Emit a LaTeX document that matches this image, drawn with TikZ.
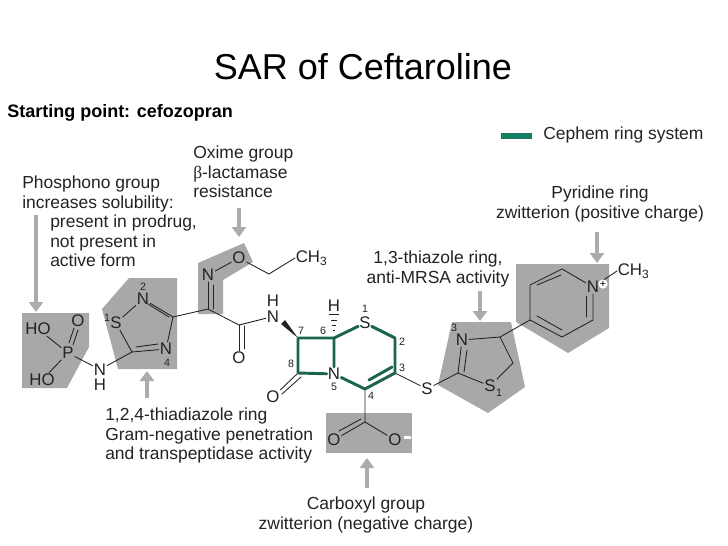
\documentclass[tikz,border=0pt]{standalone}
\usepackage{fontspec}
\setmainfont{Liberation Sans}
\newfontfamily\grk{Liberation Serif}
\definecolor{hl}{RGB}{168,168,170}
\definecolor{arr}{RGB}{172,172,172}
\definecolor{ceph}{RGB}{28,100,78}
\definecolor{cephlg}{RGB}{20,125,95}
\definecolor{ink}{RGB}{35,35,35}
\usetikzlibrary{arrows.meta}
\newcommand\subthree{\raisebox{-0.3ex}{\fontsize{9}{9}\selectfont 3}}
\tikzset{
  pxs/.style={x=0.75pt,y=-0.75pt},
  patch/.style={fill=hl,draw=none},
  bond/.style={draw=ink,line width=0.65pt,line cap=round},
  ring/.style={draw=ceph,line width=2.2pt,line cap=round},
  callout/.style={draw=arr,line width=3pt,-{Triangle[length=7.5pt,width=10.5pt]}},
  atom/.style={inner sep=0.3pt,outer sep=0.6pt,text=ink,font=\fontsize{12.6}{12.6}\selectfont},
  num/.style={inner sep=0pt,text=ink,font=\fontsize{8}{8}\selectfont},
  lab/.style={inner sep=0pt,text=ink,align=left,anchor=north west,font=\fontsize{13.1}{14.6}\selectfont},
  labc/.style={inner sep=0pt,text=ink,align=center,anchor=north,font=\fontsize{13.1}{14.6}\selectfont},
}
\begin{document}
\begin{tikzpicture}[pxs]
\useasboundingbox (0,0) rectangle (728,546);
\fill[white] (0,0) rectangle (728,546);
% patches
\fill[patch] (22,313)--(89,313)--(89,347)--(67,388)--(22,388)--cycle;
\fill[patch] (129,278)--(177,278)--(177,369)--(118,369)--(102,309)--cycle;
\fill[patch] (198,263)--(244,243)--(253,262)--(223,280)--(223,314)--(198,314)--cycle;
\fill[patch] (326,413)--(412,413)--(412,453)--(326,453)--cycle;
\fill[patch] (452,322)--(511,322)--(525,387)--(488,413)--(438,385)--cycle;
\fill[patch] (516,264)--(609,264)--(609,328)--(568,353)--(516,322)--cycle;
% texts
\node[inner sep=0pt,font=\fontsize{27}{30}\selectfont] (title) at (363,67) {SAR of Ceftaroline};
\node[inner sep=0pt,anchor=west,font=\bfseries\fontsize{13.5}{15}\selectfont] (start) at (7,113) {Starting point: cefozopran};
\node[lab] (phos) at (22,176) {Phosphono group\\increases solubility:};
\node[lab] (phos2) at (50,215) {present in prodrug,\\not present in\\active form};
\node[lab] (oxime) at (193,146) {Oxime group\\{\grk β}-lactamase\\resistance};
\node[labc] (pyr) at (600,186) {Pyridine ring\\zwitterion (positive charge)};
\node[labc] (thz) at (438,251) {1,3-thiazole ring,\\anti-MRSA activity};
\node[lab] (thd) at (105,408) {1,2,4-thiadiazole ring\\Gram-negative penetration\\and transpeptidase activity};
\node[labc] (carb) at (366,497) {Carboxyl group\\zwitterion (negative charge)};
\node[lab,anchor=west] (legend) at (543,135) {Cephem ring system};
\coordinate (lg1) at (501,136); \coordinate (lg2) at (532,136);
\draw[cephlg,line width=3.8pt] (lg1)--(lg2);
% arrows
\coordinate (a1s) at (36,215); \coordinate (a1e) at (36,312);
\coordinate (a2s) at (239,208); \coordinate (a2e) at (239,237);
\coordinate (a3s) at (147,398); \coordinate (a3e) at (147,371);
\coordinate (a4s) at (597,232); \coordinate (a4e) at (597,263);
\coordinate (a5s) at (480,291); \coordinate (a5e) at (480,321);
\coordinate (a6s) at (367,488); \coordinate (a6e) at (367,458);
\foreach \s/\e in {a1s/a1e,a2s/a2e,a3s/a3e,a4s/a4e,a5s/a5e,a6s/a6e} \draw[callout] (\s)--(\e);
% atoms
\node[atom] (p) at (68,353) {P};
\node[atom] (ho1) at (38,329) {HO};
\node[atom] (op) at (78,321) {O};
\node[atom] (ho2) at (42,380) {HO};
\node[atom] (nh) at (100,369.5) {N};
\node[atom] (nhh) at (100,384.5) {H};
\node[atom] (s1) at (116,323) {S};
\node[num] at (107,318) {1};
\node[atom] (n2) at (143,299) {N};
\node[num] at (143,287) {2};
\node[atom] (n4) at (166,349) {N};
\node[num] at (167,363) {4};
\coordinate (c3) at (173,317);
\coordinate (c5) at (132,352);
\coordinate (cim) at (208,309);
\node[atom] (nox) at (208,275) {N};
\node[atom] (oox) at (239,258) {O};
\coordinate (cch2) at (269,274);
\node[atom,anchor=west,inner sep=0pt] (ch3) at (295,258) {CH\subthree};
\coordinate (cco) at (239,325);
\node[atom] (oco) at (239,358) {O};
\node[atom] (nam) at (273,316.5) {N};
\node[atom] (hnam) at (273,301) {H};
\coordinate (c7) at (298,338);
\coordinate (c6) at (334,338);
\node[atom] (hb) at (334,306) {H};
\node[atom] (sc) at (365,323) {S};
\coordinate (c2) at (395,338);
\coordinate (c3b) at (395,373);
\coordinate (c4b) at (365,389);
\node[atom] (n5) at (334,374) {N};
\coordinate (c8) at (298,373);
\node[atom] (o8) at (273,397) {O};
\node[atom] (sl) at (427,389) {S};
\coordinate (ccx) at (365,422);
\node[atom] (oc1) at (334,440) {O};
\node[atom] (oc2) at (395,440) {O};
\coordinate (c2t) at (458,373);
\node[atom] (n3t) at (462,340) {N};
\node[num] at (454,328) {3};
\coordinate (c4t) at (500,337);
\coordinate (c5t) at (513,363);
\node[atom] (s1t) at (490,386) {S};
\node[num] at (499,393) {1};
\coordinate (p4) at (530,320);
\coordinate (p3) at (530,285);
\coordinate (p2) at (562,269);
\node[atom] (npy) at (593,287) {N};
\coordinate (p6) at (593,320);
\coordinate (p5) at (562,337);
\node[atom,anchor=west,inner sep=0pt] (ch3p) at (617,271) {CH\subthree};
\foreach \t/\x/\y in {7/301/331,6/323/331,1/365/309,2/402/342,3/402/368,4/371/396,5/334/387,8/291/364}
  \node[num] at (\x,\y) {\t};
% bonds
\draw[bond] (p)--(ho1) (p)--(ho2) (p)--(nh);
\draw[bond] (nh)--(c5) (c5)--(s1) (s1)--(n2) (n2)--(c3) (c3)--(n4) (c3)--(cim) (cim)--(cco) (cco)--(nam) (oox)--(nox) (oox)--(cch2) (cch2)--(ch3.west);
\draw[bond] (69,343)--(74,328) (73,345)--(78,330);
\draw[bond] (148,304)--(169,317);
\draw[bond] (c5)--(n4);
\draw[bond] (136,347)--(158,344);
\draw[bond] (cim)--(nox);
\draw[bond] (213,309)--(213,285);
\draw[bond] (cco)--(oco);
\draw[bond] (244,326)--(244,349);
\draw[bond] (c8)--(o8);
\draw[bond] (301,377)--(282,394);
\draw[bond] (c3b)--(sl);
\draw[bond] (sl)--(c2t);
\draw[bond] (c4b)--(ccx) (ccx)--(oc1) (ccx)--(oc2);
\draw[bond] (361,419)--(339,431);
\draw[bond] (c2t)--(n3t) (n3t)--(c4t) (c4t)--(c5t) (c5t)--(s1t) (s1t)--(c2t) (c4t)--(p4);
\draw[bond] (464,372)--(467,350);
\draw[bond] (p4)--(p3) (p3)--(p2) (p2)--(npy) (npy)--(p6) (p6)--(p5) (p5)--(p4) (npy)--(ch3p.west);
\draw[bond] (537,316)--(562,330);
\draw[bond] (537,285)--(561,275);
\draw[bond] (586,317)--(586,296);
% wedge and hash
\fill[ink] (c7)--(281,324)--(285,320)--cycle;
\draw[ink,line width=0.6pt] (329,314.5)--(339,314.5) (331,320)--(337,320) (332,325)--(336,325) (333,330)--(335,330);
% cephem
\draw[ring] (c7)--(c6) (c6)--(n5) (n5)--(c8) (c8)--(c7) (c6)--(sc) (sc)--(c2) (c2)--(c3b) (c3b)--(c4b) (c4b)--(n5);
\draw[ring] (369,380)--(392,367);
% charges
\node[circle,fill=white,inner sep=0pt,minimum size=7pt,font=\fontsize{8}{8}\selectfont] (plus) at (603,284) {+};
\fill[white] (404,436) rectangle (411,439);
\end{tikzpicture}
\end{document}
